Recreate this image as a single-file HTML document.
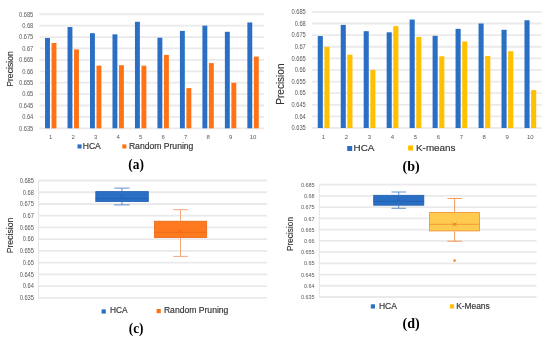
<!DOCTYPE html>
<html><head><meta charset="utf-8"><title>Precision comparison charts</title>
<style>
html,body{margin:0;padding:0;background:#fff;}
body{width:550px;height:341px;overflow:hidden;}
svg{display:block;}
text{font-family:'Liberation Sans', Arial, sans-serif;}
</style></head>
<body>
<svg width="550" height="341" viewBox="0 0 550 341" shape-rendering="geometricPrecision">
<rect width="550" height="341" fill="#fff"/>
<line x1="39.5" y1="14.25" x2="264.3" y2="14.25" stroke="#EAEAEA" stroke-width="1.8"/>
<text x="33.3" y="16.52" font-size="6.3" text-anchor="end" textLength="14.36" lengthAdjust="spacingAndGlyphs" fill="#595959">0.685</text>
<line x1="39.5" y1="25.66" x2="264.3" y2="25.66" stroke="#EAEAEA" stroke-width="1.8"/>
<text x="33.3" y="27.92" font-size="6.3" text-anchor="end" textLength="11.17" lengthAdjust="spacingAndGlyphs" fill="#595959">0.68</text>
<line x1="39.5" y1="37.06" x2="264.3" y2="37.06" stroke="#EAEAEA" stroke-width="1.8"/>
<text x="33.3" y="39.33" font-size="6.3" text-anchor="end" textLength="14.36" lengthAdjust="spacingAndGlyphs" fill="#595959">0.675</text>
<line x1="39.5" y1="48.47" x2="264.3" y2="48.47" stroke="#EAEAEA" stroke-width="1.8"/>
<text x="33.3" y="50.73" font-size="6.3" text-anchor="end" textLength="11.17" lengthAdjust="spacingAndGlyphs" fill="#595959">0.67</text>
<line x1="39.5" y1="59.87" x2="264.3" y2="59.87" stroke="#EAEAEA" stroke-width="1.8"/>
<text x="33.3" y="62.14" font-size="6.3" text-anchor="end" textLength="14.36" lengthAdjust="spacingAndGlyphs" fill="#595959">0.665</text>
<line x1="39.5" y1="71.28" x2="264.3" y2="71.28" stroke="#EAEAEA" stroke-width="1.8"/>
<text x="33.3" y="73.54" font-size="6.3" text-anchor="end" textLength="11.17" lengthAdjust="spacingAndGlyphs" fill="#595959">0.66</text>
<line x1="39.5" y1="82.68" x2="264.3" y2="82.68" stroke="#EAEAEA" stroke-width="1.8"/>
<text x="33.3" y="84.95" font-size="6.3" text-anchor="end" textLength="14.36" lengthAdjust="spacingAndGlyphs" fill="#595959">0.655</text>
<line x1="39.5" y1="94.09" x2="264.3" y2="94.09" stroke="#EAEAEA" stroke-width="1.8"/>
<text x="33.3" y="96.35" font-size="6.3" text-anchor="end" textLength="11.17" lengthAdjust="spacingAndGlyphs" fill="#595959">0.65</text>
<line x1="39.5" y1="105.49" x2="264.3" y2="105.49" stroke="#EAEAEA" stroke-width="1.8"/>
<text x="33.3" y="107.76" font-size="6.3" text-anchor="end" textLength="14.36" lengthAdjust="spacingAndGlyphs" fill="#595959">0.645</text>
<line x1="39.5" y1="116.90" x2="264.3" y2="116.90" stroke="#EAEAEA" stroke-width="1.8"/>
<text x="33.3" y="119.16" font-size="6.3" text-anchor="end" textLength="11.17" lengthAdjust="spacingAndGlyphs" fill="#595959">0.64</text>
<line x1="39.5" y1="128.30" x2="264.3" y2="128.30" stroke="#EAEAEA" stroke-width="1.8"/>
<text x="33.3" y="130.57" font-size="6.3" text-anchor="end" textLength="14.36" lengthAdjust="spacingAndGlyphs" fill="#595959">0.635</text>
<rect x="45.04" y="37.97" width="4.9" height="90.33" fill="#2A6FC4"/>
<rect x="51.54" y="43.00" width="4.9" height="85.30" fill="#FF7316"/>
<text x="50.74" y="139.2" font-size="6.0" text-anchor="middle" fill="#595959">1</text>
<rect x="67.52" y="27.02" width="4.9" height="101.28" fill="#2A6FC4"/>
<rect x="74.02" y="49.40" width="4.9" height="78.90" fill="#FF7316"/>
<text x="73.22" y="139.2" font-size="6.0" text-anchor="middle" fill="#595959">2</text>
<rect x="90.00" y="33.18" width="4.9" height="95.12" fill="#2A6FC4"/>
<rect x="96.50" y="65.60" width="4.9" height="62.70" fill="#FF7316"/>
<text x="95.70" y="139.2" font-size="6.0" text-anchor="middle" fill="#595959">3</text>
<rect x="112.48" y="34.32" width="4.9" height="93.98" fill="#2A6FC4"/>
<rect x="118.98" y="65.20" width="4.9" height="63.10" fill="#FF7316"/>
<text x="118.18" y="139.2" font-size="6.0" text-anchor="middle" fill="#595959">4</text>
<rect x="134.96" y="21.78" width="4.9" height="106.52" fill="#2A6FC4"/>
<rect x="141.46" y="65.70" width="4.9" height="62.60" fill="#FF7316"/>
<text x="140.66" y="139.2" font-size="6.0" text-anchor="middle" fill="#595959">5</text>
<rect x="157.44" y="37.74" width="4.9" height="90.56" fill="#2A6FC4"/>
<rect x="163.94" y="54.90" width="4.9" height="73.40" fill="#FF7316"/>
<text x="163.14" y="139.2" font-size="6.0" text-anchor="middle" fill="#595959">6</text>
<rect x="179.92" y="30.90" width="4.9" height="97.40" fill="#2A6FC4"/>
<rect x="186.42" y="88.10" width="4.9" height="40.20" fill="#FF7316"/>
<text x="185.62" y="139.2" font-size="6.0" text-anchor="middle" fill="#595959">7</text>
<rect x="202.40" y="25.65" width="4.9" height="102.65" fill="#2A6FC4"/>
<rect x="208.90" y="63.10" width="4.9" height="65.20" fill="#FF7316"/>
<text x="208.10" y="139.2" font-size="6.0" text-anchor="middle" fill="#595959">8</text>
<rect x="224.88" y="31.81" width="4.9" height="96.49" fill="#2A6FC4"/>
<rect x="231.38" y="82.80" width="4.9" height="45.50" fill="#FF7316"/>
<text x="230.58" y="139.2" font-size="6.0" text-anchor="middle" fill="#595959">9</text>
<rect x="247.36" y="22.46" width="4.9" height="105.84" fill="#2A6FC4"/>
<rect x="253.86" y="56.60" width="4.9" height="71.70" fill="#FF7316"/>
<text x="253.06" y="139.2" font-size="6.0" text-anchor="middle" fill="#595959">10</text>
<text x="9.8" y="69.0" font-size="8.7" fill="#363636" stroke="#363636" stroke-width="0.15" text-anchor="middle" dominant-baseline="central" transform="rotate(-90 9.8 69.0)">Precision</text>
<rect x="77.5" y="144.4" width="4.1" height="4.1" fill="#2A6FC4"/>
<text x="82.7" y="148.6" font-size="8.6" fill="#363636" stroke="#363636" stroke-width="0.18">HCA</text>
<rect x="122.3" y="144.4" width="4.1" height="4.1" fill="#FF7316"/>
<text x="128.9" y="148.6" font-size="8.6" fill="#363636" stroke="#363636" stroke-width="0.18">Random Pruning</text>
<line x1="312.0" y1="11.90" x2="541.7" y2="11.90" stroke="#EAEAEA" stroke-width="1.8"/>
<text x="305.8" y="14.17" font-size="6.3" text-anchor="end" textLength="14.36" lengthAdjust="spacingAndGlyphs" fill="#595959">0.685</text>
<line x1="312.0" y1="23.51" x2="541.7" y2="23.51" stroke="#EAEAEA" stroke-width="1.8"/>
<text x="305.8" y="25.78" font-size="6.3" text-anchor="end" textLength="11.17" lengthAdjust="spacingAndGlyphs" fill="#595959">0.68</text>
<line x1="312.0" y1="35.12" x2="541.7" y2="35.12" stroke="#EAEAEA" stroke-width="1.8"/>
<text x="305.8" y="37.39" font-size="6.3" text-anchor="end" textLength="14.36" lengthAdjust="spacingAndGlyphs" fill="#595959">0.675</text>
<line x1="312.0" y1="46.73" x2="541.7" y2="46.73" stroke="#EAEAEA" stroke-width="1.8"/>
<text x="305.8" y="49.00" font-size="6.3" text-anchor="end" textLength="11.17" lengthAdjust="spacingAndGlyphs" fill="#595959">0.67</text>
<line x1="312.0" y1="58.34" x2="541.7" y2="58.34" stroke="#EAEAEA" stroke-width="1.8"/>
<text x="305.8" y="60.61" font-size="6.3" text-anchor="end" textLength="14.36" lengthAdjust="spacingAndGlyphs" fill="#595959">0.665</text>
<line x1="312.0" y1="69.95" x2="541.7" y2="69.95" stroke="#EAEAEA" stroke-width="1.8"/>
<text x="305.8" y="72.22" font-size="6.3" text-anchor="end" textLength="11.17" lengthAdjust="spacingAndGlyphs" fill="#595959">0.66</text>
<line x1="312.0" y1="81.56" x2="541.7" y2="81.56" stroke="#EAEAEA" stroke-width="1.8"/>
<text x="305.8" y="83.83" font-size="6.3" text-anchor="end" textLength="14.36" lengthAdjust="spacingAndGlyphs" fill="#595959">0.655</text>
<line x1="312.0" y1="93.17" x2="541.7" y2="93.17" stroke="#EAEAEA" stroke-width="1.8"/>
<text x="305.8" y="95.44" font-size="6.3" text-anchor="end" textLength="11.17" lengthAdjust="spacingAndGlyphs" fill="#595959">0.65</text>
<line x1="312.0" y1="104.78" x2="541.7" y2="104.78" stroke="#EAEAEA" stroke-width="1.8"/>
<text x="305.8" y="107.05" font-size="6.3" text-anchor="end" textLength="14.36" lengthAdjust="spacingAndGlyphs" fill="#595959">0.645</text>
<line x1="312.0" y1="116.39" x2="541.7" y2="116.39" stroke="#EAEAEA" stroke-width="1.8"/>
<text x="305.8" y="118.66" font-size="6.3" text-anchor="end" textLength="11.17" lengthAdjust="spacingAndGlyphs" fill="#595959">0.64</text>
<line x1="312.0" y1="128.00" x2="541.7" y2="128.00" stroke="#EAEAEA" stroke-width="1.8"/>
<text x="305.8" y="130.27" font-size="6.3" text-anchor="end" textLength="14.36" lengthAdjust="spacingAndGlyphs" fill="#595959">0.635</text>
<rect x="317.74" y="36.05" width="5.1" height="91.95" fill="#2A6FC4"/>
<rect x="324.38" y="46.90" width="5.1" height="81.10" fill="#FFC000"/>
<text x="323.49" y="139.0" font-size="6.0" text-anchor="middle" fill="#595959">1</text>
<rect x="340.71" y="24.90" width="5.1" height="103.10" fill="#2A6FC4"/>
<rect x="347.36" y="54.70" width="5.1" height="73.30" fill="#FFC000"/>
<text x="346.46" y="139.0" font-size="6.0" text-anchor="middle" fill="#595959">2</text>
<rect x="363.68" y="31.17" width="5.1" height="96.83" fill="#2A6FC4"/>
<rect x="370.32" y="69.90" width="5.1" height="58.10" fill="#FFC000"/>
<text x="369.43" y="139.0" font-size="6.0" text-anchor="middle" fill="#595959">3</text>
<rect x="386.65" y="32.33" width="5.1" height="95.67" fill="#2A6FC4"/>
<rect x="393.30" y="26.10" width="5.1" height="101.90" fill="#FFC000"/>
<text x="392.40" y="139.0" font-size="6.0" text-anchor="middle" fill="#595959">4</text>
<rect x="409.62" y="19.56" width="5.1" height="108.44" fill="#2A6FC4"/>
<rect x="416.26" y="36.90" width="5.1" height="91.10" fill="#FFC000"/>
<text x="415.37" y="139.0" font-size="6.0" text-anchor="middle" fill="#595959">5</text>
<rect x="432.59" y="35.82" width="5.1" height="92.18" fill="#2A6FC4"/>
<rect x="439.24" y="56.30" width="5.1" height="71.70" fill="#FFC000"/>
<text x="438.34" y="139.0" font-size="6.0" text-anchor="middle" fill="#595959">6</text>
<rect x="455.56" y="28.85" width="5.1" height="99.15" fill="#2A6FC4"/>
<rect x="462.21" y="41.50" width="5.1" height="86.50" fill="#FFC000"/>
<text x="461.31" y="139.0" font-size="6.0" text-anchor="middle" fill="#595959">7</text>
<rect x="478.53" y="23.51" width="5.1" height="104.49" fill="#2A6FC4"/>
<rect x="485.18" y="55.90" width="5.1" height="72.10" fill="#FFC000"/>
<text x="484.28" y="139.0" font-size="6.0" text-anchor="middle" fill="#595959">8</text>
<rect x="501.50" y="29.78" width="5.1" height="98.22" fill="#2A6FC4"/>
<rect x="508.15" y="51.20" width="5.1" height="76.80" fill="#FFC000"/>
<text x="507.25" y="139.0" font-size="6.0" text-anchor="middle" fill="#595959">9</text>
<rect x="524.47" y="20.26" width="5.1" height="107.74" fill="#2A6FC4"/>
<rect x="531.12" y="90.10" width="5.1" height="37.90" fill="#FFC000"/>
<text x="530.22" y="139.0" font-size="6.0" text-anchor="middle" fill="#595959">10</text>
<text x="281.0" y="84.1" font-size="10.0" fill="#363636" stroke="#363636" stroke-width="0.15" text-anchor="middle" dominant-baseline="central" transform="rotate(-90 281.0 84.1)">Precision</text>
<rect x="347.2" y="146.0" width="5" height="5" fill="#2A6FC4"/>
<text x="353.6" y="151.0" font-size="9.85" fill="#363636" stroke="#363636" stroke-width="0.18">HCA</text>
<rect x="408.1" y="145.5" width="5" height="5" fill="#FFC000"/>
<text x="416.0" y="151.0" font-size="9.9" fill="#363636" stroke="#363636" stroke-width="0.18">K-means</text>
<line x1="38.5" y1="180.50" x2="267.1" y2="180.50" stroke="#EAEAEA" stroke-width="1.8"/>
<text x="34.0" y="182.77" font-size="6.3" text-anchor="end" textLength="14.36" lengthAdjust="spacingAndGlyphs" fill="#595959">0.685</text>
<line x1="38.5" y1="192.24" x2="267.1" y2="192.24" stroke="#EAEAEA" stroke-width="1.8"/>
<text x="34.0" y="194.51" font-size="6.3" text-anchor="end" textLength="11.17" lengthAdjust="spacingAndGlyphs" fill="#595959">0.68</text>
<line x1="38.5" y1="203.98" x2="267.1" y2="203.98" stroke="#EAEAEA" stroke-width="1.8"/>
<text x="34.0" y="206.25" font-size="6.3" text-anchor="end" textLength="14.36" lengthAdjust="spacingAndGlyphs" fill="#595959">0.675</text>
<line x1="38.5" y1="215.72" x2="267.1" y2="215.72" stroke="#EAEAEA" stroke-width="1.8"/>
<text x="34.0" y="217.99" font-size="6.3" text-anchor="end" textLength="11.17" lengthAdjust="spacingAndGlyphs" fill="#595959">0.67</text>
<line x1="38.5" y1="227.46" x2="267.1" y2="227.46" stroke="#EAEAEA" stroke-width="1.8"/>
<text x="34.0" y="229.73" font-size="6.3" text-anchor="end" textLength="14.36" lengthAdjust="spacingAndGlyphs" fill="#595959">0.665</text>
<line x1="38.5" y1="239.20" x2="267.1" y2="239.20" stroke="#EAEAEA" stroke-width="1.8"/>
<text x="34.0" y="241.47" font-size="6.3" text-anchor="end" textLength="11.17" lengthAdjust="spacingAndGlyphs" fill="#595959">0.66</text>
<line x1="38.5" y1="250.94" x2="267.1" y2="250.94" stroke="#EAEAEA" stroke-width="1.8"/>
<text x="34.0" y="253.21" font-size="6.3" text-anchor="end" textLength="14.36" lengthAdjust="spacingAndGlyphs" fill="#595959">0.655</text>
<line x1="38.5" y1="262.68" x2="267.1" y2="262.68" stroke="#EAEAEA" stroke-width="1.8"/>
<text x="34.0" y="264.95" font-size="6.3" text-anchor="end" textLength="11.17" lengthAdjust="spacingAndGlyphs" fill="#595959">0.65</text>
<line x1="38.5" y1="274.42" x2="267.1" y2="274.42" stroke="#EAEAEA" stroke-width="1.8"/>
<text x="34.0" y="276.69" font-size="6.3" text-anchor="end" textLength="14.36" lengthAdjust="spacingAndGlyphs" fill="#595959">0.645</text>
<line x1="38.5" y1="286.16" x2="267.1" y2="286.16" stroke="#EAEAEA" stroke-width="1.8"/>
<text x="34.0" y="288.43" font-size="6.3" text-anchor="end" textLength="11.17" lengthAdjust="spacingAndGlyphs" fill="#595959">0.64</text>
<line x1="38.5" y1="297.90" x2="267.1" y2="297.90" stroke="#EAEAEA" stroke-width="1.8"/>
<text x="34.0" y="300.17" font-size="6.3" text-anchor="end" textLength="14.36" lengthAdjust="spacingAndGlyphs" fill="#595959">0.635</text>
<line x1="38.5" y1="180.50" x2="38.5" y2="297.90" stroke="#E6E6E6" stroke-width="1"/>
<text x="10.2" y="235.5" font-size="8.7" fill="#363636" stroke="#363636" stroke-width="0.15" text-anchor="middle" dominant-baseline="central" transform="rotate(-90 10.2 235.5)">Precision</text>
<line x1="121.9" y1="188.1" x2="121.9" y2="191.2" stroke="#4D7CC6" stroke-width="0.85"/>
<line x1="121.9" y1="202.0" x2="121.9" y2="204.9" stroke="#4D7CC6" stroke-width="0.85"/>
<line x1="114.2" y1="188.1" x2="129.6" y2="188.1" stroke="#4D7CC6" stroke-width="0.85"/>
<line x1="114.2" y1="204.9" x2="129.6" y2="204.9" stroke="#4D7CC6" stroke-width="0.85"/>
<rect x="95.80" y="191.60" width="52.50" height="10.00" fill="#2A6FC4" stroke="#2260B0" stroke-width="0.8"/>
<line x1="95.4" y1="198.6" x2="148.7" y2="198.6" stroke="#2260B0" stroke-width="0.8"/>
<path d="M120.10000000000001 194.79999999999998 L123.7 198.4 M120.10000000000001 198.4 L123.7 194.79999999999998" stroke="#2260B0" stroke-width="0.8" fill="none"/>
<line x1="180.5" y1="209.7" x2="180.5" y2="220.8" stroke="#F29A66" stroke-width="0.85"/>
<line x1="180.5" y1="237.9" x2="180.5" y2="256.4" stroke="#F29A66" stroke-width="0.85"/>
<line x1="173.2" y1="209.7" x2="187.8" y2="209.7" stroke="#F29A66" stroke-width="0.85"/>
<line x1="173.2" y1="256.4" x2="187.8" y2="256.4" stroke="#F29A66" stroke-width="0.85"/>
<rect x="154.50" y="221.20" width="52.20" height="16.30" fill="#FF7A1E" stroke="#E8681A" stroke-width="0.8"/>
<line x1="154.1" y1="232.3" x2="207.1" y2="232.3" stroke="#E8681A" stroke-width="0.8"/>
<path d="M178.7 229.2 L182.3 232.8 M178.7 232.8 L182.3 229.2" stroke="#E8681A" stroke-width="0.8" fill="none"/>
<rect x="101.6" y="309.4" width="4.2" height="4.2" fill="#2A6FC4"/>
<text x="110.0" y="313.1" font-size="8.35" fill="#363636" stroke="#363636" stroke-width="0.18">HCA</text>
<rect x="156.6" y="309.0" width="4.2" height="4.2" fill="#FF7316"/>
<text x="163.9" y="313.2" font-size="8.6" fill="#363636" stroke="#363636" stroke-width="0.18">Random Pruning</text>
<line x1="319.3" y1="184.70" x2="536.6" y2="184.70" stroke="#EAEAEA" stroke-width="1.8"/>
<text x="314.6" y="186.86" font-size="6.0" text-anchor="end" textLength="13.68" lengthAdjust="spacingAndGlyphs" fill="#595959">0.685</text>
<line x1="319.3" y1="195.93" x2="536.6" y2="195.93" stroke="#EAEAEA" stroke-width="1.8"/>
<text x="314.6" y="198.09" font-size="6.0" text-anchor="end" textLength="10.64" lengthAdjust="spacingAndGlyphs" fill="#595959">0.68</text>
<line x1="319.3" y1="207.16" x2="536.6" y2="207.16" stroke="#EAEAEA" stroke-width="1.8"/>
<text x="314.6" y="209.32" font-size="6.0" text-anchor="end" textLength="13.68" lengthAdjust="spacingAndGlyphs" fill="#595959">0.675</text>
<line x1="319.3" y1="218.39" x2="536.6" y2="218.39" stroke="#EAEAEA" stroke-width="1.8"/>
<text x="314.6" y="220.55" font-size="6.0" text-anchor="end" textLength="10.64" lengthAdjust="spacingAndGlyphs" fill="#595959">0.67</text>
<line x1="319.3" y1="229.62" x2="536.6" y2="229.62" stroke="#EAEAEA" stroke-width="1.8"/>
<text x="314.6" y="231.78" font-size="6.0" text-anchor="end" textLength="13.68" lengthAdjust="spacingAndGlyphs" fill="#595959">0.665</text>
<line x1="319.3" y1="240.85" x2="536.6" y2="240.85" stroke="#EAEAEA" stroke-width="1.8"/>
<text x="314.6" y="243.01" font-size="6.0" text-anchor="end" textLength="10.64" lengthAdjust="spacingAndGlyphs" fill="#595959">0.66</text>
<line x1="319.3" y1="252.08" x2="536.6" y2="252.08" stroke="#EAEAEA" stroke-width="1.8"/>
<text x="314.6" y="254.24" font-size="6.0" text-anchor="end" textLength="13.68" lengthAdjust="spacingAndGlyphs" fill="#595959">0.655</text>
<line x1="319.3" y1="263.31" x2="536.6" y2="263.31" stroke="#EAEAEA" stroke-width="1.8"/>
<text x="314.6" y="265.47" font-size="6.0" text-anchor="end" textLength="10.64" lengthAdjust="spacingAndGlyphs" fill="#595959">0.65</text>
<line x1="319.3" y1="274.54" x2="536.6" y2="274.54" stroke="#EAEAEA" stroke-width="1.8"/>
<text x="314.6" y="276.70" font-size="6.0" text-anchor="end" textLength="13.68" lengthAdjust="spacingAndGlyphs" fill="#595959">0.645</text>
<line x1="319.3" y1="285.77" x2="536.6" y2="285.77" stroke="#EAEAEA" stroke-width="1.8"/>
<text x="314.6" y="287.93" font-size="6.0" text-anchor="end" textLength="10.64" lengthAdjust="spacingAndGlyphs" fill="#595959">0.64</text>
<line x1="319.3" y1="297.00" x2="536.6" y2="297.00" stroke="#EAEAEA" stroke-width="1.8"/>
<text x="314.6" y="299.16" font-size="6.0" text-anchor="end" textLength="13.68" lengthAdjust="spacingAndGlyphs" fill="#595959">0.635</text>
<line x1="319.3" y1="184.70" x2="319.3" y2="297.00" stroke="#E6E6E6" stroke-width="1"/>
<text x="290.0" y="234.0" font-size="8.3" fill="#363636" stroke="#363636" stroke-width="0.15" text-anchor="middle" dominant-baseline="central" transform="rotate(-90 290.0 234.0)">Precision</text>
<line x1="398.7" y1="192.0" x2="398.7" y2="194.9" stroke="#4D7CC6" stroke-width="0.85"/>
<line x1="398.7" y1="205.6" x2="398.7" y2="208.3" stroke="#4D7CC6" stroke-width="0.85"/>
<line x1="391.45" y1="192.0" x2="405.95" y2="192.0" stroke="#4D7CC6" stroke-width="0.85"/>
<line x1="391.45" y1="208.3" x2="405.95" y2="208.3" stroke="#4D7CC6" stroke-width="0.85"/>
<rect x="373.70" y="195.30" width="50.10" height="9.90" fill="#2A6FC4" stroke="#2260B0" stroke-width="0.8"/>
<line x1="373.3" y1="201.3" x2="424.2" y2="201.3" stroke="#2260B0" stroke-width="0.8"/>
<path d="M396.9 197.7 L400.5 201.3 M396.9 201.3 L400.5 197.7" stroke="#2260B0" stroke-width="0.8" fill="none"/>
<line x1="454.6" y1="198.5" x2="454.6" y2="212.2" stroke="#F08A40" stroke-width="0.85"/>
<line x1="454.6" y1="231.3" x2="454.6" y2="241.2" stroke="#F08A40" stroke-width="0.85"/>
<line x1="447.45000000000005" y1="198.5" x2="461.75" y2="198.5" stroke="#F08A40" stroke-width="0.85"/>
<line x1="447.45000000000005" y1="241.2" x2="461.75" y2="241.2" stroke="#F08A40" stroke-width="0.85"/>
<rect x="429.60" y="212.60" width="49.90" height="18.30" fill="#FFCA50" stroke="#F08A30" stroke-width="0.8"/>
<line x1="429.2" y1="224.3" x2="479.9" y2="224.3" stroke="#F08A30" stroke-width="0.8"/>
<path d="M452.6 222.3 L456.6 226.3 M452.6 226.3 L456.6 222.3" stroke="#E06A1A" stroke-width="0.8" fill="none"/>
<circle cx="454.6" cy="260.6" r="1.3" fill="#F08A30"/>
<rect x="370.8" y="304.3" width="4.2" height="4.2" fill="#2A6FC4"/>
<text x="378.9" y="308.6" font-size="8.5" fill="#363636" stroke="#363636" stroke-width="0.18">HCA</text>
<rect x="449.8" y="304.3" width="4.2" height="4.2" fill="#FFC000"/>
<text x="456.2" y="308.5" font-size="8.4" fill="#363636" stroke="#363636" stroke-width="0.18">K-Means</text>
<text x="128.3" y="168.6" style="font-family:'Liberation Serif', 'Times New Roman', serif;font-weight:bold" font-size="14.3" fill="#000" textLength="15.6" lengthAdjust="spacingAndGlyphs">(a)</text>
<text x="402.5" y="171.4" style="font-family:'Liberation Serif', 'Times New Roman', serif;font-weight:bold" font-size="14.6" fill="#000" textLength="17.1" lengthAdjust="spacingAndGlyphs">(b)</text>
<text x="128.7" y="333.3" style="font-family:'Liberation Serif', 'Times New Roman', serif;font-weight:bold" font-size="14.0" fill="#000" textLength="14.8" lengthAdjust="spacingAndGlyphs">(c)</text>
<text x="402.5" y="328.2" style="font-family:'Liberation Serif', 'Times New Roman', serif;font-weight:bold" font-size="14.0" fill="#000">(d)</text>
</svg>
</body></html>
